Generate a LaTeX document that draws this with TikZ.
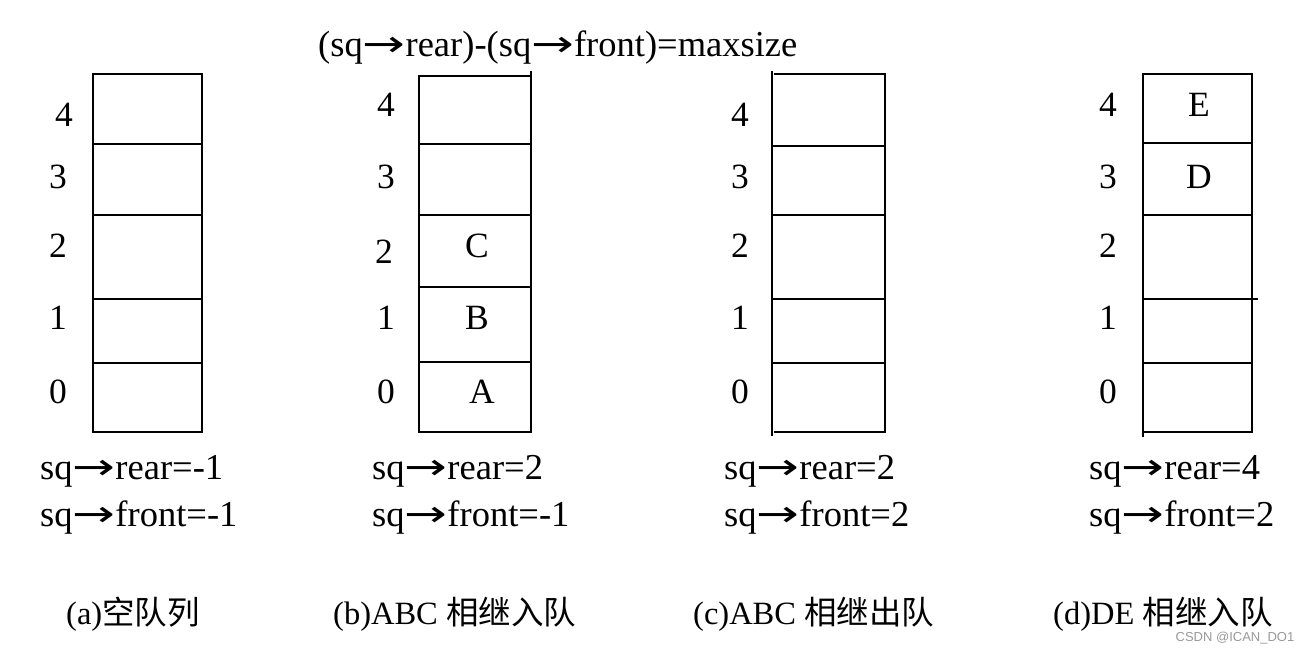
\documentclass[tikz,border=0pt]{standalone}
\usepackage{graphicx}
\usepackage{fontspec}
\setmainfont{Liberation Serif}
\newfontfamily\cjk{Noto Sans CJK SC}
\newfontfamily\wmfont{Liberation Sans}
\newfontfamily\arfont{DejaVu Sans}
\newcommand{\ar}{\scalebox{1.4}[1]{\arfont →}}
\begin{document}
\begin{tikzpicture}[x=1pt,y=-1pt,
  boxline/.style={line width=2.4pt, line cap=rect},
  idx/.style={inner sep=0pt, font=\fontsize{35.5}{40}\selectfont},
  elem/.style={inner sep=0pt, font=\fontsize{35.5}{40}\selectfont},
  ptr/.style={inner sep=0pt, anchor=base west, font=\fontsize{36.5}{42}\selectfont},
  captext/.style={inner sep=0pt, anchor=base west, font=\fontsize{32.5}{38}\selectfont},
  wm/.style={inner sep=0pt, text=gray!80, font=\wmfont\fontsize{13}{15}\selectfont}]
\useasboundingbox (0,0) rectangle (1306,654);

% formula
\node[ptr] (formula) at (318,56) {(sq\ar rear)-(sq\ar front)=maxsize};

% ---- box a ----
\draw[boxline] (93,74) rectangle (202,432);
\foreach \yy in {144,215,299,363} \draw[boxline] (93,\yy) -- (202,\yy);
\node[idx] (a4) at (64,115) {4};
\node[idx] (a3) at (58,177) {3};
\node[idx] (a2) at (58,246) {2};
\node[idx] (a1) at (58,318) {1};
\node[idx] (a0) at (58,392) {0};
\node[ptr] (arear) at (40,479) {sq\ar rear=-1};
\node[ptr] (afront) at (40,526) {sq\ar front=-1};
\node[captext] (acap) at (66,624) {(a){\cjk 空队列}};

% ---- box b ----
\draw[boxline] (419,76) rectangle (531,432);
\draw[boxline] (531,76) -- (531,72);
\foreach \yy in {144,215,287,362} \draw[boxline] (419,\yy) -- (531,\yy);
\node[idx] (b4) at (386,105) {4};
\node[idx] (b3) at (386,177) {3};
\node[idx] (b2) at (384,252) {2};
\node[idx] (b1) at (386,318) {1};
\node[idx] (b0) at (386,392) {0};
\node[elem] (bC) at (477,246) {C};
\node[elem] (bB) at (477,318) {B};
\node[elem] (bA) at (482,392) {A};
\node[ptr] (brear) at (372,479) {sq\ar rear=2};
\node[ptr] (bfront) at (372,526) {sq\ar front=-1};
\node[captext] (bcap) at (333,624) {(b)ABC {\cjk 相继入队}};

% ---- box c ----
\draw[boxline] (772,72) -- (772,435);
\draw[boxline] (775,74) -- (885,74) -- (885,432) -- (775,432);
\foreach \yy in {146,215,299,363} \draw[boxline] (774,\yy) -- (885,\yy);
\node[idx] (c4) at (740,115) {4};
\node[idx] (c3) at (740,177) {3};
\node[idx] (c2) at (740,246) {2};
\node[idx] (c1) at (740,318) {1};
\node[idx] (c0) at (740,392) {0};
\node[ptr] (crear) at (724,479) {sq\ar rear=2};
\node[ptr] (cfront) at (724,526) {sq\ar front=2};
\node[captext] (ccap) at (693,624) {(c)ABC {\cjk 相继出队}};

% ---- box d ----
\draw[boxline] (1143,74) rectangle (1252,432);
\draw[boxline] (1143,432) -- (1143,436);
\foreach \yy in {143,215,363} \draw[boxline] (1143,\yy) -- (1252,\yy);
\draw[boxline] (1143,299) -- (1257,299);
\node[idx] (d4) at (1108,105) {4};
\node[idx] (d3) at (1108,177) {3};
\node[idx] (d2) at (1108,246) {2};
\node[idx] (d1) at (1108,318) {1};
\node[idx] (d0) at (1108,392) {0};
\node[elem] (dE) at (1199,105) {E};
\node[elem] (dD) at (1199,177) {D};
\node[ptr] (drear) at (1089,479) {sq\ar rear=4};
\node[ptr] (dfront) at (1089,526) {sq\ar front=2};
\node[captext] (dcap) at (1053,624) {(d)DE {\cjk 相继入队}};

\node[wm] (wm) at (1235,638) {CSDN @ICAN\_DO1};
\end{tikzpicture}
\end{document}
